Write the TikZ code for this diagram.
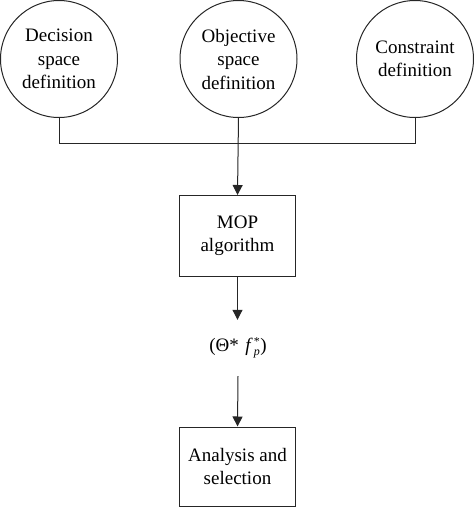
\documentclass[tikz,border=0pt]{standalone}
\usepackage{fontspec}
\setmainfont{Liberation Serif}
\usetikzlibrary{arrows.meta}
\begin{document}
\begin{tikzpicture}[x=1pt,y=1pt,
  line/.style={draw=black!85, line width=1pt},
  arr/.style={line, -{Triangle[width=10pt,length=10pt]}},
  txt/.style={font=\fontsize{19}{23.5}\selectfont},
  circ/.style={circle, line, txt, minimum size=117pt, inner sep=0pt, align=center},
  boxnode/.style={rectangle, line, txt, minimum width=116pt, minimum height=81pt, inner sep=0pt, align=center}]
\useasboundingbox (0,0) rectangle (474,-507);
\node[circ] (dec) at (59,-59) {Decision\\space\\definition};
\node[circ] (obj) at (238.5,-59) {Objective\\space\\definition};
\node[circ] (con) at (415,-59) {Constraint\\definition};
\node[boxnode] (mop) at (237.5,-236) {MOP\\algorithm};
\node[txt, minimum height=56pt, inner sep=0pt] (res) at (238,-348)
  {(Θ*\,\,\textit{f}\kern1pt$^{\mbox{\fontsize{12}{12}\selectfont *}}_{\mbox{\fontsize{12}{12}\selectfont\itshape p}}$)};
\node[boxnode, minimum height=79pt] (ana) at (237.5,-466.5) {Analysis and\\selection};
\coordinate (jl) at (59,-143);
\coordinate (jr) at (415,-143);
\draw[line] (dec.south) -- (jl) -- (jr) -- (con.south);
\draw[arr] (obj.south) -- (mop.north);
\draw[arr] (mop.south) -- (mop.south |- res.north);
\draw[arr] (res.south) -- (ana.north);
\end{tikzpicture}
\end{document}
